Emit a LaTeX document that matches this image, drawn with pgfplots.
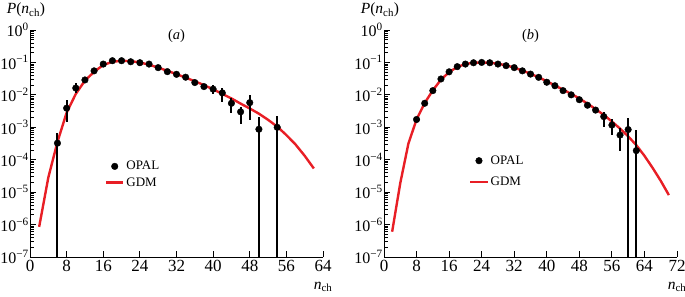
\documentclass[border=0pt]{standalone}
\usepackage{fontspec}
\setmainfont{Liberation Serif}
\usepackage{pgfplots}
\pgfplotsset{compat=1.18}
\usepackage{pgfplotstable}
\definecolor{gdm}{RGB}{232,30,37}

% panel (a) OPAL data
\pgfplotstableread{
n p ep em
6 3.24e-4 3.4e-4 3.23999e-4
8 3.89e-3 3.03e-3 2.44e-3
10 0.0162 0.0069 0.0048
12 0.0288 0.003 0.003
14 0.055 0.004 0.004
16 0.089 0.005 0.005
18 0.113 0.006 0.006
20 0.113 0.006 0.006
22 0.105 0.005 0.005
24 0.098 0.005 0.005
26 0.089 0.005 0.005
28 0.069 0.004 0.004
30 0.052 0.004 0.004
32 0.043 0.004 0.004
34 0.035 0.004 0.004
36 0.024 0.003 0.003
38 0.018 0.0035 0.003
40 0.015 0.005 0.0045
42 0.0115 0.0045 0.0053
44 0.0055 0.0023 0.0027
46 0.0030 0.0013 0.00174
48 0.00575 0.00425 0.0041
50 0.00087 0.00127 0.000869999
54 0.0010 0.00124 0.000999999
}\opalA

% panel (a) GDM curve
\pgfplotstableread{
n p
2 8.51e-7
4 2.82e-5
6 3.55e-4
8 2.82e-3
10 1.07e-2
12 2.75e-2
14 5.13e-2
16 8.32e-2
18 0.1047
20 0.1122
22 0.1096
24 0.1
26 0.0851
28 0.0692
30 0.0550
32 0.0437
34 0.0339
36 0.0263
38 0.0200
40 0.0148
42 0.0107
44 0.00776
46 0.00537
48 0.00380
50 0.00263
52 0.00170
54 0.00105
56 5.75e-4
58 2.95e-4
60 1.32e-4
62 5.37e-5
}\gdmA

% panel (b) OPAL data
\pgfplotstableread{
n p ep em
8 1.74e-3 0.00015 0.00015
10 5.50e-3 0.0004 0.0004
12 0.0135 0.0008 0.0008
14 0.0309 0.0015 0.0015
16 0.0513 0.0025 0.0025
18 0.0741 0.003 0.003
20 0.0891 0.004 0.004
22 0.0977 0.004 0.004
24 0.100 0.004 0.004
26 0.0977 0.004 0.004
28 0.0891 0.004 0.004
30 0.0794 0.004 0.004
32 0.0692 0.004 0.004
34 0.0550 0.003 0.003
36 0.0437 0.003 0.003
38 0.0347 0.002 0.002
40 0.0245 0.002 0.002
42 0.0191 0.0015 0.0015
44 0.0135 0.0012 0.0012
46 0.0100 0.0009 0.0009
48 0.00708 0.0008 0.0008
50 0.00479 0.0008 0.0006
52 0.00339 0.00088 0.0007
54 0.00214 0.00088 0.00109
56 0.00117 0.00069 0.00060
58 5.75e-4 3.58e-4 3.85e-4
60 8.51e-4 1.15e-3 8.50999e-4
62 1.91e-4 6.2e-4 1.90999e-4
}\opalB

% panel (b) GDM curve
\pgfplotstableread{
n p
2 6.03e-7
4 1.905e-5
6 3.16e-4
8 1.74e-3
10 5.62e-3
12 0.0138
14 0.0295
16 0.0501
18 0.0724
20 0.0891
22 0.0977
24 0.1
26 0.0977
28 0.0912
30 0.0813
32 0.0692
34 0.0562
36 0.0447
38 0.0347
40 0.0263
42 0.0195
44 0.0145
46 0.0107
48 0.00776
50 0.00537
52 0.00363
54 0.00240
56 0.00151
58 9.12e-4
60 5.25e-4
62 2.82e-4
64 1.32e-4
66 5.62e-5
68 2.24e-5
70 8.13e-6
}\gdmB

\begin{document}
\begin{tikzpicture}
\path[use as bounding box] (-30pt,-40pt) rectangle (655pt,257pt);
\begin{axis}[at={(0pt,0pt)}, anchor=south west,
    scale only axis, width=293pt, height=227pt,
    ymode=log, ymin=1e-7, ymax=1, xmin=0, xmax=64, xtick={0,8,...,64},
    axis lines=left,
    axis line style={-, line width=1pt, black},
    tick align=inside,
    major tick length=6pt, minor tick length=3.5pt,
    tick style={black, line width=0.8pt},
    ytick={1e-7,1e-6,1e-5,1e-4,1e-3,1e-2,1e-1,1},
    yticklabels={10\textsuperscript{−7},10\textsuperscript{−6},10\textsuperscript{−5},10\textsuperscript{−4},10\textsuperscript{−3},10\textsuperscript{−2},10\textsuperscript{−1},10\textsuperscript{0}},
    tick label style={font=\fontsize{17}{17}\selectfont},
    yticklabel style={inner xsep=1pt, font=\fontsize{16}{16}\selectfont},
    x tick label style={/pgf/number format/assume math mode=true},
    xlabel={\textit{n}\textsubscript{ch}},
    ylabel={\textit{P}(\textit{n}\textsubscript{ch})},
    xlabel style={at={(rel axis cs:1,0)}, anchor=center, yshift=-30pt, font=\fontsize{15.5}{15.5}\selectfont},
    ylabel style={rotate=-90, at={(rel axis cs:0,1)}, anchor=center, xshift=-4pt, yshift=20pt, font=\fontsize{15.5}{15.5}\selectfont},
    title={(\textit{a})},
    title style={at={(rel axis cs:0.5,1)}, anchor=center, yshift=-12pt, font=\fontsize{14.5}{14.5}\selectfont},
    legend style={draw=none, fill=none, anchor=north west, at={(rel axis cs:0.245,0.44)}, font=\fontsize{13}{13}\selectfont, row sep=2pt},
    legend cell align=left,
    reverse legend]
\addplot[gdm, line width=2.4pt, no marks] table[x=n,y=p] {\gdmA};
\addlegendentry{GDM}
\addplot[only marks, mark=*, mark size=3.3pt, black, mark options={fill=black},
    error bars/y dir=both, error bars/y explicit, error bars/error mark=none,
    error bars/error bar style={line width=2pt, black}]
    table[x=n,y=p,y error plus=ep,y error minus=em] {\opalA};
\addlegendentry{OPAL}
\end{axis}
\begin{axis}[at={(354pt,0pt)}, anchor=south west,
    scale only axis, width=293pt, height=227pt,
    ymode=log, ymin=1e-7, ymax=1, xmin=0, xmax=72, xtick={0,8,...,72},
    axis lines=left,
    axis line style={-, line width=1pt, black},
    tick align=inside,
    major tick length=6pt, minor tick length=3.5pt,
    tick style={black, line width=0.8pt},
    ytick={1e-7,1e-6,1e-5,1e-4,1e-3,1e-2,1e-1,1},
    yticklabels={10\textsuperscript{−7},10\textsuperscript{−6},10\textsuperscript{−5},10\textsuperscript{−4},10\textsuperscript{−3},10\textsuperscript{−2},10\textsuperscript{−1},10\textsuperscript{0}},
    tick label style={font=\fontsize{17}{17}\selectfont},
    yticklabel style={inner xsep=1pt, font=\fontsize{16}{16}\selectfont},
    x tick label style={/pgf/number format/assume math mode=true},
    xlabel={\textit{n}\textsubscript{ch}},
    ylabel={\textit{P}(\textit{n}\textsubscript{ch})},
    xlabel style={at={(rel axis cs:1,0)}, anchor=center, yshift=-30pt, font=\fontsize{15.5}{15.5}\selectfont},
    ylabel style={rotate=-90, at={(rel axis cs:0,1)}, anchor=center, xshift=-4pt, yshift=20pt, font=\fontsize{15.5}{15.5}\selectfont},
    title={(\textit{b})},
    title style={at={(rel axis cs:0.5,1)}, anchor=center, yshift=-12pt, font=\fontsize{14.5}{14.5}\selectfont},
    legend style={draw=none, fill=none, anchor=north west, at={(rel axis cs:0.28,0.465)}, font=\fontsize{13}{13}\selectfont, row sep=7pt},
    legend cell align=left,
    reverse legend]
\addplot[gdm, line width=2.4pt, no marks] table[x=n,y=p] {\gdmB};
\addlegendentry{GDM}
\addplot[only marks, mark=*, mark size=3.3pt, black, mark options={fill=black},
    error bars/y dir=both, error bars/y explicit, error bars/error mark=none,
    error bars/error bar style={line width=2pt, black}]
    table[x=n,y=p,y error plus=ep,y error minus=em] {\opalB};
\addlegendentry{OPAL}
\end{axis}
\end{tikzpicture}
\end{document}
